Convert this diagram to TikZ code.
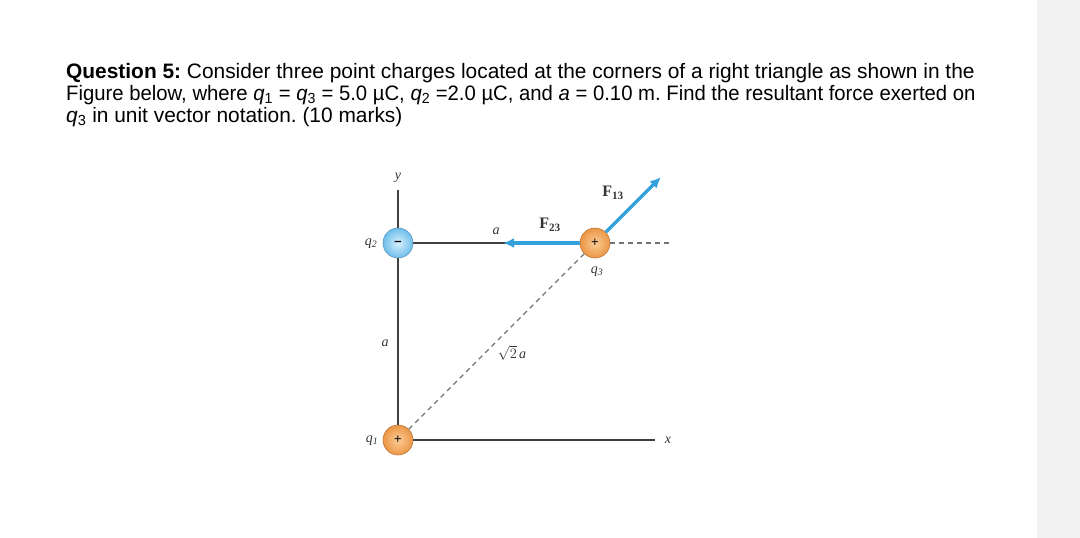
\documentclass[tikz,border=0pt]{standalone}
\usepackage{fontspec}
\setmainfont{Liberation Sans}
\newfontfamily\serifx{Liberation Serif}
\usetikzlibrary{arrows.meta}
\frenchspacing
\definecolor{arrowblue}{RGB}{52,160,220}
\definecolor{qorange}{RGB}{235,150,70}
\definecolor{qorangein}{RGB}{252,205,150}
\definecolor{qblue}{RGB}{110,190,235}
\definecolor{qbluein}{RGB}{215,240,252}
\tikzset{
  line/.style={draw=black!75, line width=1.3pt},
  dashline/.style={draw=black!55, dash pattern=on 5pt off 4pt, line width=1.1pt},
  force/.style={draw=arrowblue, line width=3.2pt, -{Latex[length=11pt,width=10pt]}},
  charge/.style n args={2}{circle, minimum size=30pt, inner sep=0pt, draw=#1!80!black, line width=0.6pt, inner color=#2, outer color=#1},
  lbl/.style={font=\serifx\fontsize{14}{15}\selectfont\itshape, text=black!80},
  body/.style={anchor=west, inner sep=0pt, font=\fontsize{20.9}{23}\selectfont}
}
\begin{document}
\begin{tikzpicture}[x=1pt,y=-1pt]
\useasboundingbox (0,0) rectangle (1080,538);
\fill[black!5] (1037,0) rectangle (1080,538);
\node[body] (l1) at (66,73) {\textbf{Question 5:} Consider three point charges located at the corners of a right triangle as shown in the};
\node[body] (l2) at (66,95) {\scalebox{0.971}[1]{Figure below, where \textit{q}\textsubscript{1} = \textit{q}\textsubscript{3} = 5.0 µC, \textit{q}\textsubscript{2} =2.0 µC, and \textit{a} = 0.10 m. Find the resultant force exerted on}};
\node[body] (l3) at (66,117) {\textit{q}\textsubscript{3} in unit vector notation. (10 marks)};
\coordinate (ytop) at (398,190);
\coordinate (xend) at (655,440);
\coordinate (dend) at (672,243);
\coordinate (f13) at (661,177);
\coordinate (f23) at (503,243);
\node[charge={qorange}{qorangein}] (q1) at (398,440) {};
\node[charge={qblue}{qbluein}] (q2) at (398,243) {};
\node[charge={qorange}{qorangein}] (q3) at (595,243) {};
\draw[line] (ytop) -- (q2.north);
\draw[line] (q2.south) -- (q1.north);
\draw[line] (q1.east) -- (xend);
\draw[line] (q2.east) -- (q3.west);
\draw[dashline] (q1.north east) -- (q3.south west);
\draw[dashline] (q3.east) -- (dend);
\draw[force] (q3.west) -- (f23);
\draw[force] (q3.north east) -- (f13);
\node at (q1) {\fontsize{13}{13}\selectfont +};
\node at (q3) {\fontsize{13}{13}\selectfont +};
\node at (q2) {\fontsize{13}{13}\selectfont\textbf{–}};
\node[lbl] (ly) at (398,178) {y};
\node[lbl] (lx) at (668,440) {x};
\node[lbl] (lq1) at (372,441) {q\textsubscript{1}};
\node[lbl] (lq2) at (371,244) {q\textsubscript{2}};
\node[lbl] (lq3) at (597,272) {q\textsubscript{3}};
\node[lbl] (la1) at (496,231) {a};
\node[lbl] (la2) at (385,343) {a};
\node[lbl] (ls) at (512,353) {$\sqrt{2}$\,a};
\node[font=\serifx\fontsize{16}{16}\selectfont\bfseries, text=black!80] (lf13) at (613,193) {F\textsubscript{13}};
\node[font=\serifx\fontsize{16}{16}\selectfont\bfseries, text=black!80] (lf23) at (550,225) {F\textsubscript{23}};
\end{tikzpicture}
\end{document}
